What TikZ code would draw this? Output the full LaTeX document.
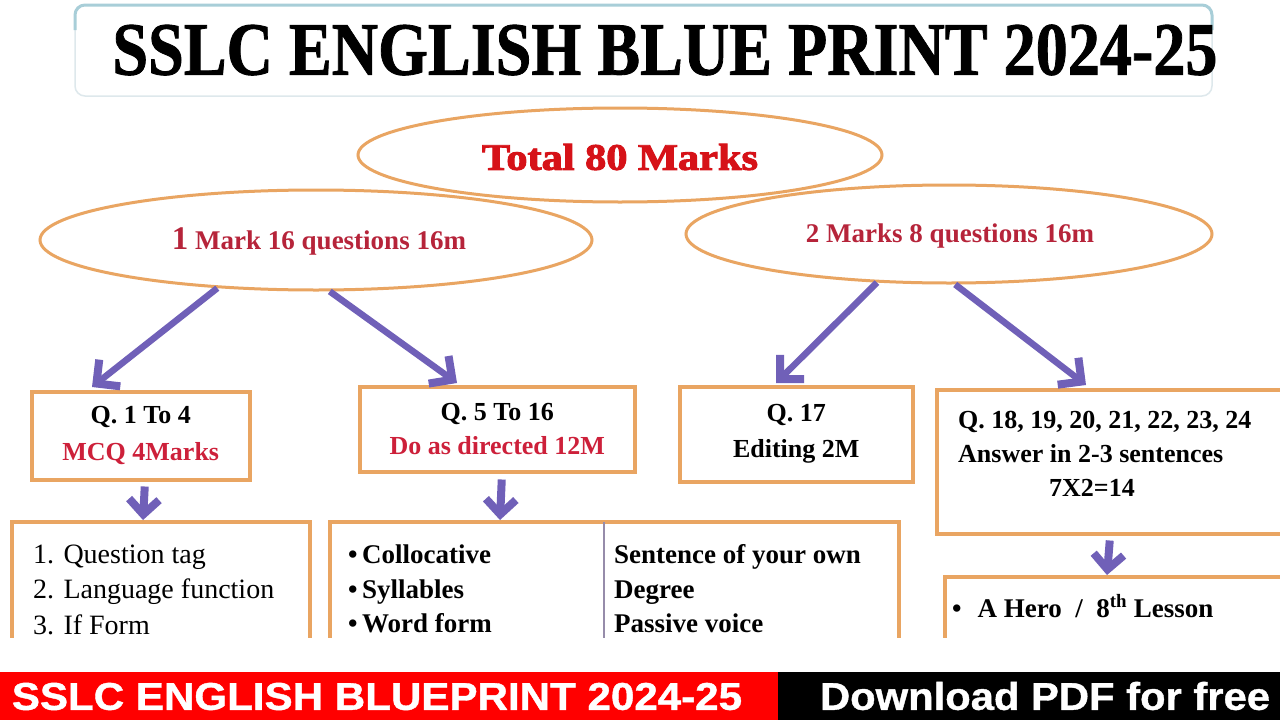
\documentclass[tikz,border=0pt]{standalone}
\usepackage{graphicx}
\usepackage{fontspec}
\setmainfont{Liberation Serif}
\setsansfont{Liberation Sans}
\newfontfamily\heavyserif[FakeBold=2.5]{Liberation Serif}
\newfontfamily\titleserif[FakeBold=1.2]{Liberation Serif}
\newfontfamily\heavysans[FakeBold=1]{Liberation Sans}
\usetikzlibrary{shapes.geometric,arrows.meta,calc}
\definecolor{orng}{RGB}{233,165,98}
\definecolor{purp}{RGB}{112,96,184}
\definecolor{boxred}{RGB}{205,32,58}
\definecolor{ellred}{RGB}{182,36,58}
\definecolor{totred}{RGB}{214,18,24}
\definecolor{bannerred}{RGB}{255,0,0}
\definecolor{paneledge}{RGB}{168,206,216}
\definecolor{panelside}{RGB}{222,232,236}
\definecolor{divgray}{RGB}{150,140,170}
\begin{document}
\begin{tikzpicture}[x=1pt,y=-1pt,
  oval/.style={ellipse,draw=orng,line width=3pt,inner sep=0pt},
  qbox/.style={rectangle,draw=orng,line width=3.5pt,inner sep=0pt,anchor=north west},
  bigarrow/.style={draw=purp,line width=6.5pt,-{Straight Barb[length=17pt,width=34pt,line width=8pt]}},
  smallarrow/.style={draw=purp,line width=8pt,-{Straight Barb[length=15pt,width=30pt,line width=8pt]}},
  boldtxt/.style={font=\fontsize{26}{37}\selectfont\bfseries,inner sep=0pt},
  listreg/.style={font=\fontsize{28}{34}\selectfont,inner sep=0pt,anchor=base west},
  listbold/.style={font=\fontsize{27}{34}\selectfont\bfseries,inner sep=0pt,anchor=base west},
  elltxt/.style={font=\fontsize{27}{32}\selectfont\bfseries,text=ellred,inner sep=0pt}
]
\useasboundingbox (0,0) rectangle (1280,720);
\fill[white] (0,0) rectangle (1280,720);

% top panel
\draw[draw=panelside,line width=1.5pt,fill=white,rounded corners=10pt] (75,5) rectangle (1212,96);
\draw[draw=paneledge,line width=3pt,rounded corners=10pt] (75,30) -- (75,5) -- (1212,5) -- (1212,30);
\node[inner sep=0pt] (title) at (665,50) {\resizebox{1105pt}{50pt}{\titleserif\bfseries SSLC ENGLISH BLUE PRINT 2024-25}};

\begin{scope}
\clip (0,0) rectangle (1280,637);

% ellipses
\node[oval,minimum width=524pt,minimum height=94pt] (tot) at (620,155) {};
\node[inner sep=0pt] (tottxt) at (620,157) {\color{totred}\resizebox{276pt}{26pt}{\heavyserif\bfseries Total 80 Marks}};
\node[oval,minimum width=552pt,minimum height=100pt] (e1) at (316,240) {};
\node[elltxt] (e1txt) at (319,241) {{\fontsize{33}{33}\selectfont 1} Mark 16 questions 16m};
\node[oval,minimum width=526pt,minimum height=98pt] (e2) at (949,234) {};
\node[elltxt] (e2txt) at (950,236) {2 Marks 8 questions 16m};

% question boxes
\node[qbox,minimum width=218pt,minimum height=88pt,align=center,font=\fontsize{26}{37}\selectfont\bfseries] (b1) at (30,390) {Q. 1 To 4\\\textcolor{boxred}{MCQ 4Marks}};
\node[qbox,minimum width=275pt,minimum height=85pt,align=center,font=\fontsize{26}{34}\selectfont\bfseries] (b2) at (358,385) {Q. 5 To 16\\\textcolor{boxred}{Do as directed 12M}};
\node[qbox,minimum width=233pt,minimum height=95pt,align=center,font=\fontsize{26}{36}\selectfont\bfseries] (b3) at (678,385) {Q. 17\\Editing 2M};
\node[qbox,minimum width=352pt,minimum height=144pt] (b4) at (935,388) {};
\node[boldtxt,anchor=base west] (t4a) at (958,428) {Q. 18, 19, 20, 21, 22, 23, 24};
\node[boldtxt,anchor=base west] (t4b) at (958,462) {Answer in 2-3 sentences};
\node[boldtxt,anchor=base] (t4c) at (1092,496) {7X2=14};

% lower boxes
\node[qbox,minimum width=298pt,minimum height=200pt] (b5) at (10,520) {};
\node[listreg] (l1) at (33,563) {1. Question tag};
\node[listreg] (l2) at (33,598) {2. Language function};
\node[listreg] (l3) at (33,634) {3. If Form};

\node[qbox,minimum width=569pt,minimum height=200pt] (b6) at (328,520) {};
\draw[divgray,line width=1.5pt] ($(b6.north west)+(276,2)$) -- ($(b6.north west)+(276,130)$);
\node[listbold] (m1) at (348,563) {\textbullet\,Collocative};
\node[listbold] (m2) at (348,598) {\textbullet\,Syllables};
\node[listbold] (m3) at (348,632) {\textbullet\,Word form};
\node[listbold] (r1) at (614,563) {Sentence of your own};
\node[listbold] (r2) at (614,598) {Degree};
\node[listbold] (r3) at (614,632) {Passive voice};

\node[qbox,minimum width=345pt,minimum height=120pt] (b7) at (943,575) {};
\node[listbold] (h1) at (952,617) {\textbullet\hspace{16pt}A Hero\ \ /\ \ 8\textsuperscript{th} Lesson};

% arrows
\draw[bigarrow] (e1.206) -- ($(b1.north west)+(62,-3)$);
\draw[bigarrow] (e1.285) -- ($(b2.north west)+(99,-2)$);
\draw[bigarrow] (e2.214) -- ($(b3.north west)+(98,-2)$);
\draw[bigarrow] (e2.277) -- ($(b4.north west)+(151,-3)$);
\draw[smallarrow] ($(b1.south)+(4,5)$) -- ($(b5.north west)+(133,0)$);
\draw[smallarrow] ($(b2.south)+(4.5,6)$) -- ($(b6.north west)+(172,0)$);
\draw[smallarrow] ($(b4.south)+(-3,5)$) -- ($(b7.north west)+(164,0)$);
\end{scope}

% bottom banner
\fill[bannerred] (0,672) rectangle (778,720);
\fill[black] (778,672) rectangle (1280,720);
\node[inner sep=0pt,text=white] (bl) at (377,696.5) {\resizebox{730pt}{27pt}{\heavysans\bfseries SSLC ENGLISH BLUEPRINT 2024-25}};
\node[inner sep=0pt,text=white] (br) at (1045,696) {\resizebox{450pt}{28pt}{\heavysans\bfseries Download PDF for free}};
\end{tikzpicture}
\end{document}
